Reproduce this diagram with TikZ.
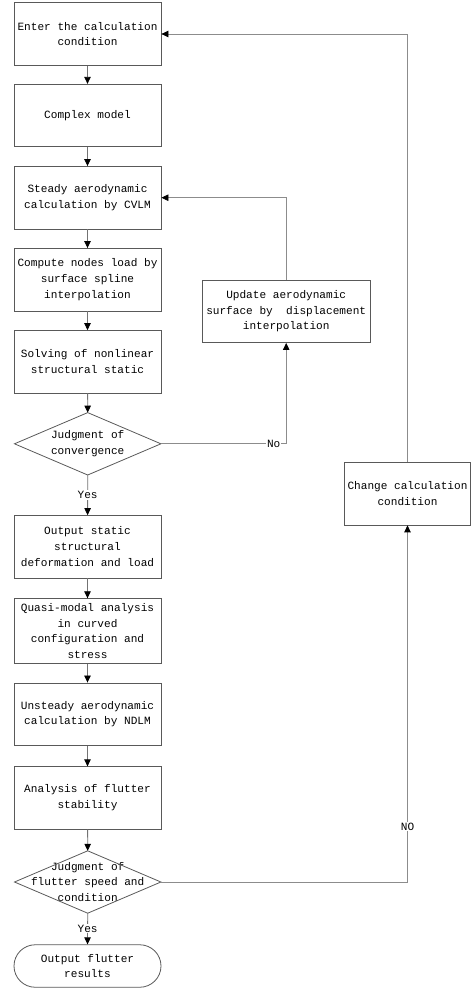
\documentclass[tikz,border=0pt]{standalone}
\usepackage{fontspec}
\setmainfont{Liberation Mono}
\usetikzlibrary{arrows.meta,shapes.misc}

\begin{document}
\begin{tikzpicture}[x=1pt,y=-1pt,>={Triangle[length=7pt,width=6.5pt,color=black,fill=black]},
		every node/.style={font=\fontsize{11.1}{15.8}\selectfont,align=center,inner sep=0pt},
		stepbox/.style={draw=black!65,line width=0.8pt,minimum width=147pt,minimum height=62.5pt},
		decision/.style={minimum width=146pt,minimum height=62pt},
		endbox/.style={draw=black!65,line width=0.8pt,rounded rectangle,minimum width=147pt,minimum height=42.5pt},
		lbl/.style={fill=white,inner sep=1pt}]
		\useasboundingbox (0,0) rectangle (474,990);
		\node[stepbox] (enter) at (87.5,34) {Enter the calculation\\condition};
		\node[stepbox] (model) at (87.5,115.5) {Complex model};
		\node[stepbox] (steady) at (87.5,197.7) {Steady aerodynamic\\calculation by CVLM};
		\node[stepbox] (compute) at (87.5,279.7) {Compute nodes load by\\surface spline\\interpolation};
		\node[stepbox] (solve) at (87.5,361.8) {Solving of nonlinear\\structural static};
		\node[decision] (conv) at (87.7,443.8) {Judgment of\\convergence};
		\node[stepbox] (outstat) at (87.5,546.8) {Output static\\structural\\deformation and load};
		\node[stepbox,minimum height=64.6pt] (quasi) at (87.5,631) {Quasi-modal analysis\\in curved\\configuration and\\stress};
		\node[stepbox] (unsteady) at (87.5,714.2) {Unsteady aerodynamic\\calculation by NDLM};
		\node[stepbox] (analysis) at (87.5,798) {Analysis of flutter\\stability};
		\node[decision] (flutter) at (87.7,882) {Judgment of\\flutter speed and\\condition};
		\node[endbox] (result) at (87.5,966) {Output flutter\\results};
		\node[stepbox,minimum width=168pt] (update) at (286.2,311.3) {Update aerodynamic\\surface by~ displacement\\interpolation};
		\node[stepbox,minimum width=126.4pt] (change) at (407.5,493.7) {Change calculation\\condition};
		\coordinate (updtop) at (286.2,197.7);
		\coordinate (updbot) at (286.2,443.8);
		\coordinate (chgtop) at (407.5,34);
		\coordinate (chgbot) at (407.5,882);
		%
		\draw[black!65,line width=0.8pt] (conv.north) -- (conv.east) -- (conv.south) -- (conv.west) -- cycle;
		\draw[black!65,line width=0.8pt] (flutter.north) -- (flutter.east) -- (flutter.south) -- (flutter.west) -- cycle;
		%
		\path[->,black!55,line width=0.8pt]
		(enter) edge (model)
		(model) edge (steady)
		(steady) edge (compute)
		(compute) edge (solve)
		(solve) edge (conv.north)
		(conv.south) edge node[lbl,text=black,pos=0.5]{Yes} (outstat)
		(outstat) edge (quasi)
		(quasi) edge (unsteady)
		(unsteady) edge (analysis)
		(analysis) edge (flutter.north)
		(flutter.south) edge node[lbl,text=black,pos=0.5]{Yes} (result.north);
		%
		\draw[->,draw=black!45,line width=0.8pt]
		(conv.east) -- node[lbl,pos=0.9]{No} (updbot) -- (update.south);
		\draw[->,draw=black!45,line width=0.8pt]
		(update.north) -- (updtop) -- (steady.east);
		\draw[->,draw=black!45,line width=0.8pt]
		(flutter.east) -- (chgbot) -- node[lbl,pos=0.155]{NO} (change.south);
		\draw[->,draw=black!45,line width=0.8pt]
		(change.north) -- (chgtop) -- (enter.east);
		\end{tikzpicture}
\end{document}
